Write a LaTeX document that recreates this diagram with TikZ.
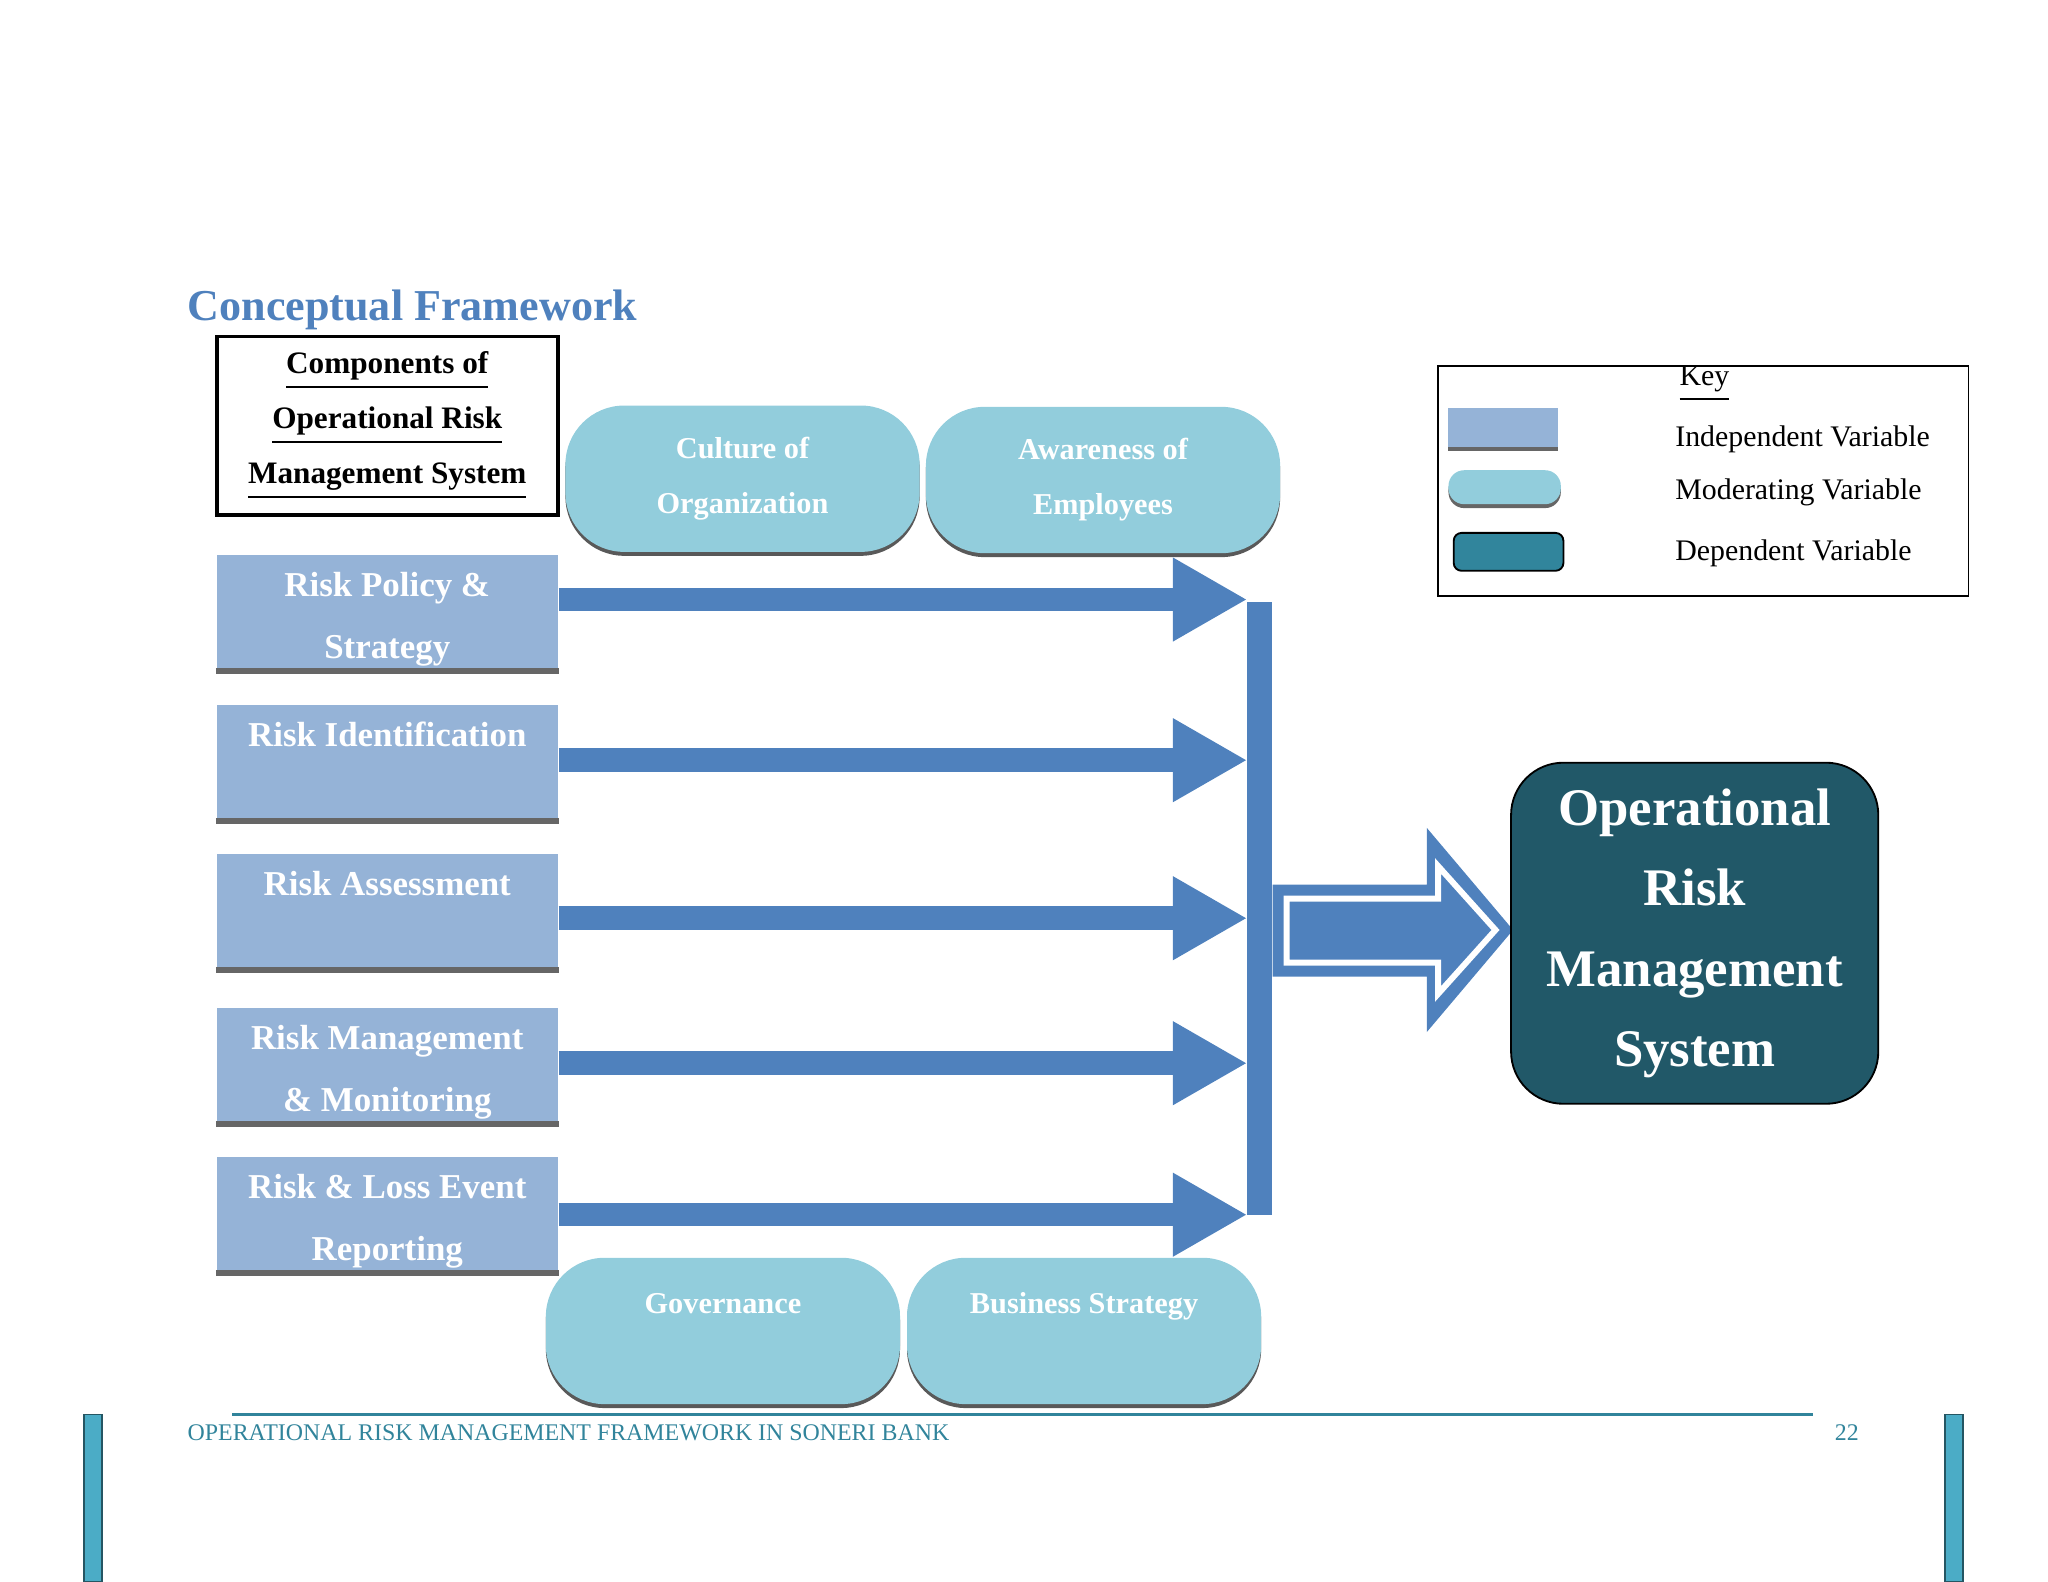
\documentclass[tikz,border=0pt]{standalone}
\usepackage{fontspec}
\setmainfont{Liberation Serif}
\usetikzlibrary{positioning,arrows.meta,shadows}
\definecolor{indblue}{HTML}{95B3D7}
\definecolor{modblue}{HTML}{92CDDC}
\definecolor{depblue}{HTML}{215868}
\definecolor{keydep}{HTML}{31859C}
\definecolor{flowblue}{HTML}{4F81BD}
\definecolor{titleblue}{HTML}{4F81BD}
\definecolor{footblue}{HTML}{31849B}
\definecolor{sidebar}{HTML}{4BACC6}
\begin{document}
\begin{tikzpicture}[x=0.01cm,y=-0.01cm,
	indep/.style={fill=indblue,minimum width=2.61cm,minimum height=0.88cm,inner sep=0pt},
	indtext/.style={text=white,align=center,inner sep=0pt,font=\bfseries\fontsize{7.6}{13.5}\selectfont},
	modv/.style={fill=modblue,rounded corners=0.45cm,minimum width=2.71cm,minimum height=1.12cm,
		drop shadow={shadow xshift=0cm,shadow yshift=-0.03cm,fill=black!65,opacity=1},
		text=white,align=center,font=\bfseries\fontsize{6.6}{12}\selectfont},
	flow/.style={flowblue,line width=0.18cm,-{Triangle[length=0.57cm,width=0.6cm]}},
	keytext/.style={anchor=west,inner sep=0pt,font=\fontsize{6.5}{8}\selectfont}]
\useasboundingbox (0,0) rectangle (1568,1211);

\node[anchor=west,inner sep=0pt,text=titleblue,font=\bfseries\fontsize{9.6}{11}\selectfont] (title) at (143,237) {Conceptual Framework};

% components box
\node[draw=black,thick,minimum width=2.61cm,minimum height=1.26cm,align=center,
	font=\bfseries\fontsize{6.8}{12}\selectfont] (comp) at (296.5,326)
	{\underline{Components of}\\\underline{Operational Risk}\\\underline{Management System}};

% moderating variables
\node[modv] (cult) at (568.5,366.5) {Culture of\\Organization};
\node[modv] (aware) at (844.5,367.5) {Awareness of\\Employees};
\node[modv] (gov) at (553.5,1019) {Governance\\\mbox{}};
\node[modv] (bus) at (830,1019) {Business Strategy\\\mbox{}};

% independent variables and arrows
\foreach \i/\by/\ay/\txt in {1/469/459/{Risk Policy \&\\Strategy},2/584/582/{Risk Identification\\\mbox{}},
	3/698/703/{Risk Assessment\\\mbox{}},4/816/814/{Risk Management\\\& Monitoring},5/930/930/{Risk \& Loss Event\\Reporting}}{
	\node[indep] (b\i) at (296.5,\by) {};
	\draw[black!60,line width=1.2pt] (b\i.south west) -- (b\i.south east);
	\begin{scope}
		\clip (b\i.south west) rectangle (b\i.north east);
		\node[indtext,below=0.13cm of b\i.north] (t\i) {\txt};
	\end{scope}
	\coordinate (m\i) at (955,\ay);
	\draw[flow] (b\i.east|-m\i) -- (m\i);
}
\fill[flowblue] (955,461) rectangle (974,930);

% big arrow
\draw[flowblue,line width=1.5pt,fill=flowblue] (977,680) -- (1095,680) -- (1095,641) -- (1155,712)
	-- (1095,783) -- (1095,745) -- (977,745) -- cycle;
\draw[white,line width=1.3pt] (985,688) -- (1101,688) -- (1101,663) -- (1145,712)
	-- (1101,761) -- (1101,737) -- (985,737) -- cycle;

% dependent variable
\node[draw=black,fill=depblue,rounded corners=0.4cm,minimum width=2.81cm,minimum height=2.61cm,
	text=white,align=center,font=\bfseries\fontsize{11.5}{17.5}\selectfont] (orms) at (1297.5,714.5)
	{Operational\\Risk\\Management\\System};

% key
\node[draw=black,minimum width=4.06cm,minimum height=1.76cm] (key) at (1304,368) {};
\node[inner sep=0pt,font=\fontsize{6.5}{8}\selectfont] (keyt) at (1305,294) {\underline{Key}};
\fill[black!60] (1109,315) rectangle (1193,345);
\fill[indblue] (1109,312) rectangle (1193,342);
\fill[black!60,rounded corners=0.12cm] (1109,363) rectangle (1195,389);
\fill[modblue,rounded corners=0.12cm] (1109,360) rectangle (1195,386);
\draw[black,fill=keydep,rounded corners=0.06cm] (1113,408) rectangle (1197,437);
\node[keytext] (k1) at (1282,336) {Independent Variable};
\node[keytext] (k2) at (1282,377) {Moderating Variable};
\node[keytext] (k3) at (1282,424) {Dependent Variable};

% footer
\draw[footblue,line width=0.6pt] (178,1083) -- (1388,1083);
\node[anchor=west,inner sep=0pt,text=footblue,font=\fontsize{5.2}{6}\selectfont] (foot) at (143,1097)
	{OPERATIONAL RISK MANAGEMENT FRAMEWORK IN SONERI BANK};
\node[inner sep=0pt,text=footblue,font=\fontsize{5.2}{6}\selectfont] (page) at (1414,1097) {22};
\draw[black!50!sidebar,fill=sidebar] (64,1083) rectangle (78,1211);
\draw[black!50!sidebar,fill=sidebar] (1489,1083) rectangle (1503,1211);
\end{tikzpicture}
\end{document}
